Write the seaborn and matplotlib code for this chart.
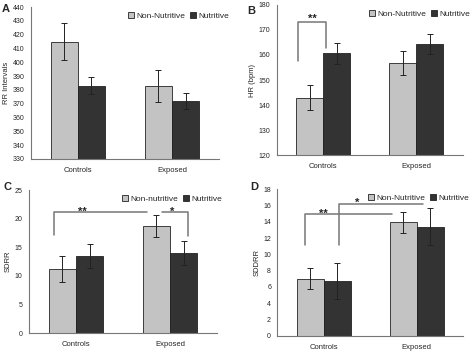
"""Four-panel bar chart: RR, HR, SDRR, SDDRR by group and sucking type."""

import matplotlib.pyplot as plt
import pandas as pd
import seaborn as sns

GROUPS = ["Controls", "Exposed"]
HUES = ["Non-Nutritive", "Nutritive"]
COLORS = ["#c3c3c3", "#333333"]

RR_MEAN = [[415, 383], [383, 372]]
RR_ERR = [[13.5, 6], [11.6, 6]]
HR_MEAN = [[143, 160.6], [156.8, 164.3]]
HR_ERR = [[5, 4.1], [4.9, 4.1]]
SDRR_MEAN = [[11.2, 13.4], [18.7, 14.0]]
SDRR_ERR = [[2.2, 2.1], [1.9, 2.1]]
SDDRR_MEAN = [[7.0, 6.7], [13.9, 13.4]]
SDDRR_ERR = [[1.3, 2.2], [1.25, 2.3]]

PANELS = [
    ("A", RR_MEAN, RR_ERR, "RR Intervals", (330, 440), 10, HUES),
    ("B", HR_MEAN, HR_ERR, "HR (bpm)", (120, 180), 10, HUES),
    ("C", SDRR_MEAN, SDRR_ERR, "SDRR", (0, 25), 5, ["Non-nutritive", "Nutritive"]),
    ("D", SDDRR_MEAN, SDDRR_ERR, "SDDRR", (0, 18), 2, HUES),
]

POSITIONS = {
    "A": [0.065, 0.551, 0.397, 0.429],
    "B": [0.584, 0.562, 0.392, 0.424],
    "C": [0.061, 0.059, 0.397, 0.404],
    "D": [0.585, 0.051, 0.392, 0.415],
}
LETTER_XY = {"A": (0.004, 0.99), "B": (0.522, 0.982), "C": (0.008, 0.487), "D": (0.527, 0.487)}
LEGEND_X = {"A": 0.49, "B": 0.47, "C": 0.47, "D": 0.46}

# brackets: (x0, x1, y_top, y_left_bottom, y_right_bottom, star_x, star_y, stars)
BRACKETS = {
    "B": [(-0.27, 0.03, 173.2, 157.6, 162.8, -0.12, 172.4, "**")],
    "C": [(-0.234, 0.755, 21.2, 17.1, None, 0.07, 20.4, "**"),
          (0.915, 1.19, 21.2, None, 17.0, 1.02, 20.4, "*")],
    "D": [(-0.2, 0.73, 14.9, 11.1, None, 0.0, 14.3, "**"),
          (0.16, 1.065, 16.2, 11.1, None, 0.36, 15.7, "*")],
}


def draw_panel(ax, mean, err, ylabel, ylim, step, labels, letter):
    df = pd.DataFrame(
        [{"group": g, "type": labels[j], "value": mean[i][j]} for i, g in enumerate(GROUPS) for j in range(2)]
    )
    sns.barplot(
        data=df, x="group", y="value", hue="type", hue_order=labels, order=GROUPS,
        palette=COLORS, width=0.58, gap=0, errorbar=None, edgecolor="#222222",
        linewidth=0.6, ax=ax,
    )
    bar_conts = list(ax.containers)
    for j, cont in enumerate(bar_conts):
        for i, bar in enumerate(cont.patches):
            ax.errorbar(
                bar.get_x() + bar.get_width() / 2, bar.get_height(), yerr=err[i][j],
                fmt="none", ecolor="#222222", elinewidth=0.7, capsize=2.2, capthick=0.7,
            )

    ax.set_xlim(-0.5, 1.5)
    ax.set_ylim(*ylim)
    ax.set_yticks(range(ylim[0], ylim[1] + 1, step))
    ax.set_xticks([0, 1], GROUPS)
    ax.set_xticks([0.5, 1.5], minor=True)
    ax.tick_params(axis="x", which="major", length=0, labelsize=5.5, pad=6)
    ax.tick_params(axis="x", which="minor", length=2.5, color="#666666")
    ax.tick_params(axis="y", length=2.5, labelsize=5, color="#666666", pad=2)
    ax.set_xlabel("")
    ax.set_ylabel(ylabel, fontsize=5.5, labelpad=2)
    for side in ("top", "right"):
        ax.spines[side].set_visible(False)
    for side in ("left", "bottom"):
        ax.spines[side].set_color("#777777")
        ax.spines[side].set_linewidth(0.8)

    ax.legend(
        loc="upper left", bbox_to_anchor=(LEGEND_X[letter], 1.0), ncol=2, frameon=False,
        fontsize=6, handlelength=0.7, handleheight=0.7, handletextpad=0.3,
        columnspacing=0.6, borderaxespad=0.2,
    )

    for x0, x1, yt, yl, yr, sx, sy, stars in BRACKETS.get(letter, []):
        xs, ys = [x0, x1], [yt, yt]
        if yl is not None:
            xs, ys = [x0] + xs, [yl] + ys
        if yr is not None:
            xs, ys = xs + [x1], ys + [yr]
        ax.plot(xs, ys, color="#777777", lw=1.1, clip_on=False)
        ax.text(sx, sy, stars, ha="center", va="bottom", fontsize=8, fontweight="bold")


def main() -> None:
    sns.set_theme(style="white")
    plt.rcParams["font.family"] = ["Liberation Sans", "DejaVu Sans"]
    fig = plt.figure(figsize=(4.74, 3.54), dpi=100)
    for letter, mean, err, ylabel, ylim, step, labels in PANELS:
        ax = fig.add_axes(POSITIONS[letter])
        draw_panel(ax, mean, err, ylabel, ylim, step, labels, letter)
        lx, ly = LETTER_XY[letter]
        fig.text(lx, ly, letter, fontsize=8, fontweight="bold", va="top")
    fig.savefig("out.png", dpi=100)


if __name__ == "__main__":
    main()
